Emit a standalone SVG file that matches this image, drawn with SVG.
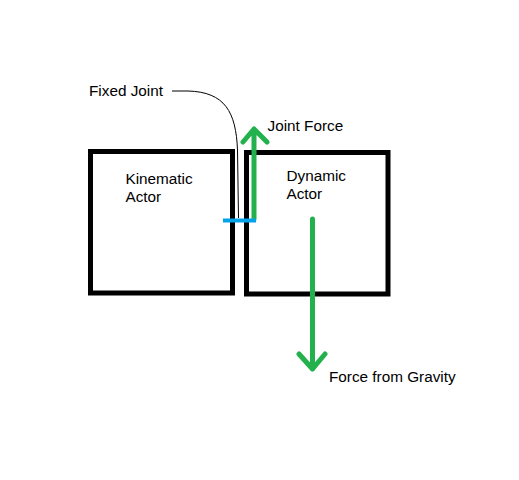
<svg xmlns="http://www.w3.org/2000/svg" width="519" height="480" viewBox="0 0 519 480">
<style>
.box{fill:none;stroke:#000;stroke-width:5}
.lbl{font-family:"Liberation Sans",Arial,sans-serif;font-size:15.3px;fill:#000}
.grn{fill:none;stroke:#22B14C;stroke-width:5;stroke-linecap:round;stroke-linejoin:round}
</style>
<rect width="519" height="480" fill="#fff"/>
<g id="kinematic-actor">
<rect class="box" x="90.5" y="151.5" width="142" height="141.5"/>
<text class="lbl" x="125.5" y="184.3">Kinematic</text>
<text class="lbl" x="125.5" y="202.3">Actor</text>
</g>
<g id="dynamic-actor">
<rect class="box" x="246.5" y="152.5" width="141.5" height="141.5"/>
<text class="lbl" x="286.5" y="180.5">Dynamic</text>
<text class="lbl" x="286.5" y="198.5">Actor</text>
</g>
<g id="connectors">
<path d="M172,91 L188,91 C225,92 236,112 237.5,150 L238.5,218" fill="none" stroke="#000" stroke-width="1"/>
<path class="grn" d="M254,219 V129 M243,142 L254,129 L267,142"/>
<path class="grn" d="M312.5,219 V369 M299,354 L312.5,369 L325,354"/>
<line x1="223" y1="220.5" x2="256" y2="220.5" stroke="#00A2E8" stroke-width="4"/>
</g>
<g id="labels">
<text class="lbl" x="89" y="96">Fixed Joint</text>
<text class="lbl" x="267.5" y="130.7">Joint Force</text>
<text class="lbl" x="329" y="382.3">Force from Gravity</text>
</g>
</svg>
